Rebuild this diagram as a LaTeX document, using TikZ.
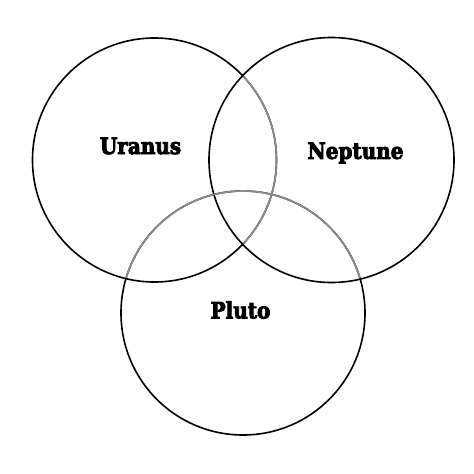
\documentclass[tikz,border=0pt]{standalone}
\usepackage{fontspec}
\newfontfamily\labelfont[FakeBold=4]{DejaVu Serif Bold}
\begin{document}
\begin{tikzpicture}[x=1pt,y=-1pt,
  ring/.style={line width=1.6pt, draw=black},
  faded/.style={line width=1.6pt, draw=black!45},
  lbl/.style={font=\labelfont\fontsize{20}{24}\selectfont, inner sep=0pt, yscale=1.12}]
\useasboundingbox[fill=white] (0,0) rectangle (474,474);
\coordinate (cu) at (154.5,160);
\coordinate (cn) at (331.5,160);
\coordinate (cp) at (243,313);
\draw[ring] (cu) circle[radius=122];
\draw[ring] (cn) circle[radius=122.5];
\draw[ring] (cp) circle[radius=122];
% lighter arcs inside the other circles
\begin{scope}
  \clip (cn) circle[radius=121.5];
  \draw[faded] (cu) circle[radius=122];
\end{scope}
\begin{scope}
  \clip (cu) circle[radius=121] (cn) circle[radius=121.5];
  \draw[faded] (cp) circle[radius=122];
\end{scope}
\node[lbl] (uranus) at (140.5,146) {Uranus};
\node[lbl] (neptune) at (355.5,153) {Neptune};
\node[lbl] (pluto) at (240.5,310) {Pluto};
\end{tikzpicture}
\end{document}
